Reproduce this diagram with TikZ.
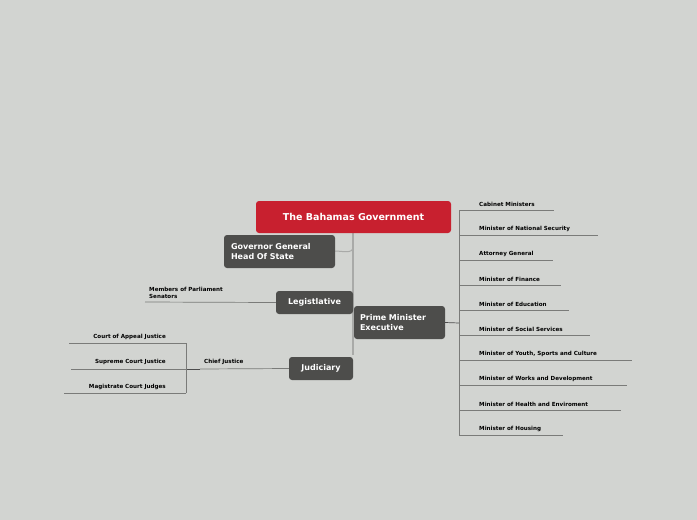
\documentclass[tikz,border=0pt]{standalone}
\usepackage{fontspec}
\setmainfont{DejaVu Sans}
\begin{document}
\begin{tikzpicture}[x=1pt,y=-1pt,
  box/.style={fill=boxc,rounded corners=3pt,text=white,font=\bfseries\fontsize{8}{10}\selectfont,align=left,inner sep=0pt},
  leaf/.style={font=\bfseries\fontsize{5.6}{7}\selectfont,anchor=south west,inner sep=1pt,align=left},
  ln/.style={draw=linec,line width=0.7pt},
  spine/.style={draw=spinec,line width=2pt}]
\definecolor{bg}{HTML}{D2D4D1}
\definecolor{boxc}{HTML}{4D4D4B}
\definecolor{redc}{HTML}{C8202F}
\definecolor{linec}{HTML}{7A7B79}
\definecolor{spinec}{HTML}{A9AAA8}
\fill[bg] (0,0) rectangle (697,520);
\useasboundingbox (0,0) rectangle (697,520);
% spine
\draw[spine] (353,233) -- (353,355);
\draw[draw=spinec,line width=1pt] (335,251) to[out=0,in=-90] (353,247);
% boxes
\node[box,fill=redc,minimum width=195pt,minimum height=32pt,font=\bfseries\fontsize{9.5}{11}\selectfont,align=center] (t) at (353.5,217) {The Bahamas Government};
\node[box,minimum width=111pt,minimum height=33pt,text width=97pt] (g) at (279.5,251.5) {Governor General\\Head Of State};
\node[box,minimum width=77pt,minimum height=23pt,align=center] (l) at (314.5,302.5) {Legistlative};
\node[box,minimum width=91pt,minimum height=33pt,text width=79pt] (p) at (399.5,322.5) {Prime Minister\\Executive};
\node[box,minimum width=64pt,minimum height=23pt,align=center] (j) at (321,368.5) {Judiciary};
% right side
\coordinate (pr) at (459,323);
\draw[ln,draw=black!70] (p.east) -- (pr);
\draw[ln] (459,210) -- (459,435);
\foreach \i/\t/\e in {0/Cabinet Ministers/554,1/Minister of National Security/598,2/Attorney General/553,3/Minister of Finance/561,4/Minister of Education/569,5/Minister of Social Services/590,6/{Minister of Youth, Sports and Culture}/632,7/Minister of Works and Development/627,8/Minister of Health and Enviroment/621,9/Minister of Housing/563}{
  \node[leaf] (m\i) at (478,{208+25*\i}) {\t};
  \draw[ln] (459,{210+25*\i}) -- (\e,{210+25*\i});
}
% legislative
\node[leaf] (mp) at (148,300) {Members of Parliament\\Senators};
\draw[ln] (l.west) -- (145,302);
% judiciary
\node[leaf] (cj) at (203,366) {Chief Justice};
\coordinate (bj) at (186,369);
\draw[ln] (j.west) -- (200,369);
\draw[ln,draw=black!70] (200,369) -- (bj);
\draw[ln] (186,343) -- (186,393);
\node[leaf,anchor=south east] (ca) at (167,341) {Court of Appeal Justice};
\node[leaf,anchor=south east] (sc) at (167,366) {Supreme Court Justice};
\node[leaf,anchor=south east] (mc) at (167,391) {Magistrate Court Judges};
\draw[ln] (186,343) -- (69,343);
\draw[ln] (186,369) -- (71,369);
\draw[ln] (186,393) -- (64,393);
\end{tikzpicture}
\end{document}
